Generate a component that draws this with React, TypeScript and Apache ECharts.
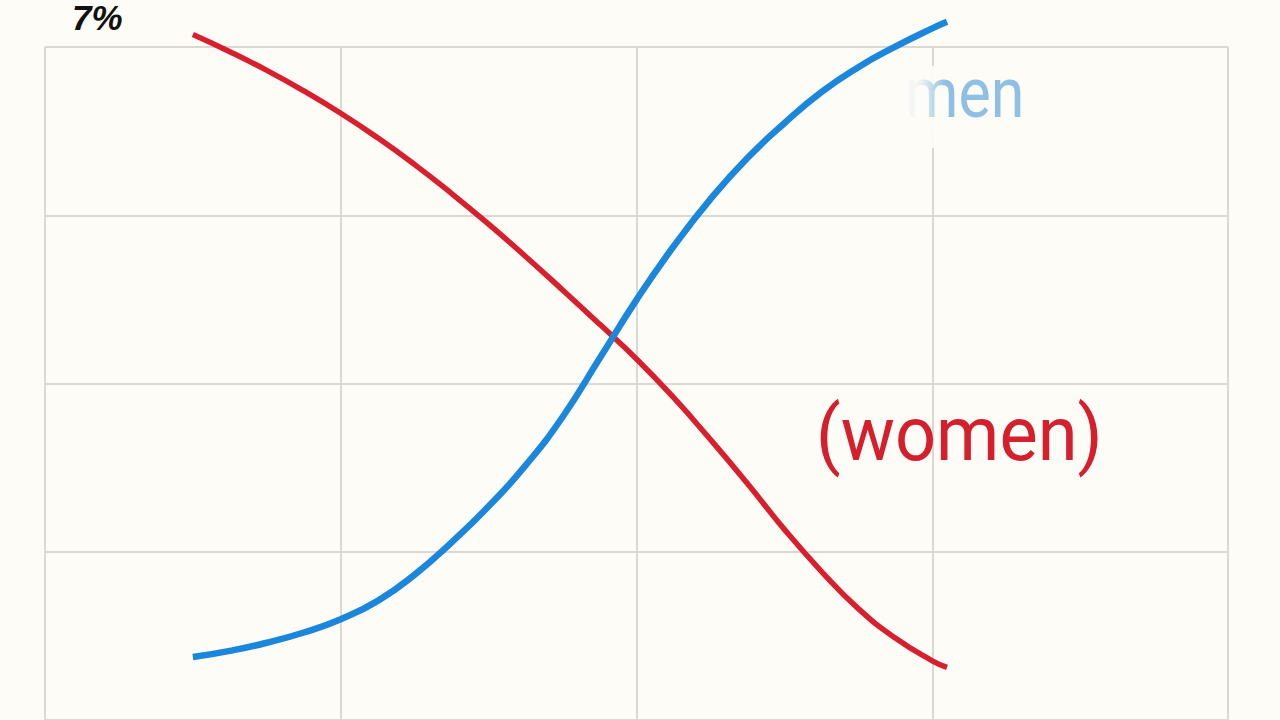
import React, { useEffect, useRef } from "react";
import * as echarts from "echarts";

// x positions of the sampled points (grid columns 0..4)
const xSteps = [
  0.5, 0.625, 0.75, 0.875, 1.0, 1.125, 1.25, 1.375, 1.5, 1.625, 1.75,
  1.875, 2.0, 2.125, 2.25, 2.375, 2.5, 2.625, 2.75, 2.875, 3.0, 3.05,
];
// red line (women)
const womenValues = [
  4.074, 3.972, 3.861, 3.739, 3.606, 3.46, 3.301, 3.129, 2.947, 2.755, 2.556,
  2.353, 2.146, 1.917, 1.667, 1.406, 1.133, 0.884, 0.662, 0.487, 0.352, 0.313,
];
// blue line (men)
const menValues = [
  0.374, 0.411, 0.459, 0.52, 0.599, 0.708, 0.864, 1.056, 1.27, 1.513, 1.801,
  2.148, 2.497, 2.814, 3.096, 3.34, 3.547, 3.732, 3.88, 4.002, 4.111, 4.15,
];
// axis extents
const xRange = [0, 4];
const yRange = [0, 4];
const topLabel = "7%";
const menLabel = "men";
const womenLabel = "(women)";

export default function App() {
  const ref = useRef<HTMLDivElement>(null);
  useEffect(() => {
    if (!ref.current) return;
    const chart = echarts.init(ref.current, null, { renderer: "svg" });
    const bg = "#fdfcf6";
    const option: any = {
      animation: false,
      backgroundColor: bg,
      grid: { left: 45, top: 47, width: 1183, height: 679, containLabel: false },
      xAxis: {
        type: "value",
        min: xRange[0],
        max: xRange[1],
        interval: 1,
        axisLine: { show: false },
        axisTick: { show: false },
        axisLabel: { show: false },
        splitLine: { show: true, lineStyle: { color: "#dadad5", width: 2 } },
      },
      yAxis: {
        type: "value",
        min: yRange[0],
        max: yRange[1],
        interval: 1,
        axisLine: { show: false },
        axisTick: { show: false },
        axisLabel: { show: false },
        splitLine: { show: true, lineStyle: { color: "#dadad5", width: 2 } },
      },
      series: [
        {
          name: "women",
          type: "line",
          smooth: 0.5,
          clip: false,
          showSymbol: false,
          symbol: "none",
          data: xSteps.map((x, i) => [x, womenValues[i]]),
          lineStyle: { color: "#d91f2d", width: 5.5 },
          z: 3,
        },
        {
          name: "men",
          type: "line",
          smooth: 0.5,
          clip: false,
          showSymbol: false,
          symbol: "none",
          data: xSteps.map((x, i) => [x, menValues[i]]),
          lineStyle: { color: "#1a86dc", width: 6.5 },
          z: 4,
        },
      ],
      graphic: [
        {
          type: "rect",
          shape: { x: 895, y: 66, width: 140, height: 82 },
          style: { fill: bg, opacity: 0.9 },
          z: 10,
        },
        {
          type: "text",
          x: 905,
          y: 128,
          scaleX: 0.87,
          z: 11,
          style: {
            text: menLabel,
            fontFamily: "Roboto",
            fontSize: 70,
            fontWeight: "normal",
            verticalAlign: "bottom",
            fill: "#8fc0e4",
          },
        },
        {
          type: "rect",
          shape: { x: 900, y: 70, width: 45, height: 70 },
          style: {
            fill: new echarts.graphic.LinearGradient(0, 0, 1, 0, [
              { offset: 0, color: "rgba(253,252,246,1)" },
              { offset: 0.45, color: "rgba(253,252,246,0.85)" },
              { offset: 1, color: "rgba(253,252,246,0)" },
            ]),
          },
          z: 12,
        },
        {
          type: "text",
          x: 816,
          y: 396,
          scaleX: 0.95,
          z: 11,
          style: {
            text: womenLabel,
            fontFamily: "Roboto",
            fontSize: 76,
            fontWeight: "normal",
            verticalAlign: "top",
            fill: "#d51f2c",
          },
        },
        {
          type: "text",
          x: 72,
          y: 0,
          z: 11,
          style: {
            text: topLabel,
            fontFamily: "Liberation Sans",
            fontSize: 35,
            fontWeight: "bold",
            fontStyle: "italic",
            verticalAlign: "top",
            fill: "#111111",
          },
        },
      ],
    };
    chart.setOption(option);
    return () => chart.dispose();
  }, []);
  return (
    <div
      ref={ref}
      style={{ position: "fixed", left: 0, top: 0, width: 1280, height: 720 }}
    />
  );
}
